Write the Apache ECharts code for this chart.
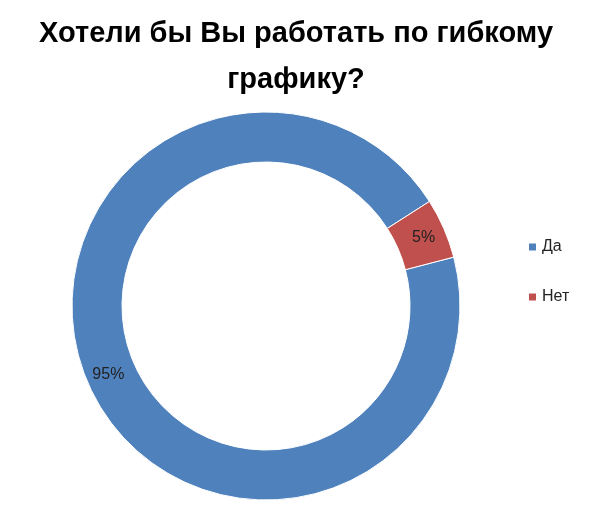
<!doctype html>
<html>
<head>
<meta charset="utf-8">
<script src="https://cdn.jsdelivr.net/npm/echarts@6/dist/echarts.min.js"></script>
<style>html,body{margin:0;background:#fff}#main{width:592px;height:507px}</style>
</head>
<body>
<div id="main"></div>
<script>
var names = ['Да', 'Нет'];
var values = [95, 5];
var colors = ['#4f81bd', '#c0504d'];

var chart = echarts.init(document.getElementById('main'));
chart.setOption({
    animation: false,
    title: {
        text: 'Хотели бы Вы работать по гибкому\nграфику?',
        left: 'center', top: 6,
        textStyle: { fontFamily: 'Liberation Sans', fontSize: 29, fontWeight: 'bold', color: '#000', lineHeight: 46 }
    },
    legend: {
        orient: 'vertical', left: 522, top: 234, itemGap: 34,
        icon: 'rect', itemWidth: 9, itemHeight: 9,
        textStyle: { fontFamily: 'Liberation Sans', fontSize: 16, color: '#222' }
    },
    series: [{
        type: 'pie',
        center: [266, 306], radius: [144, 194],
        startAngle: 14.6,
        label: { position: 'inside', formatter: '{d}%', fontFamily: 'Liberation Sans', fontSize: 16, color: '#222' },
        labelLine: { show: false },
        itemStyle: { borderColor: '#fff', borderWidth: 1 },
        data: names.map(function (n, i) { return { name: n, value: values[i], itemStyle: { color: colors[i] } }; })
    }]
});
</script>
</body>
</html>
